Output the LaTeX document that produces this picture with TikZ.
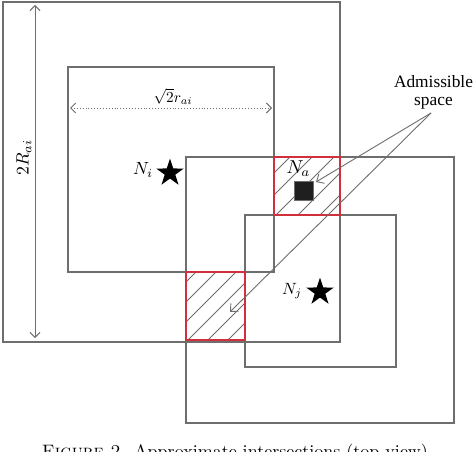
\documentclass[tikz,border=0pt]{standalone}
\usepackage{graphicx}
\usepackage{fontspec}
\newfontfamily\lblfont{Liberation Serif}
\usetikzlibrary{shapes.geometric,arrows.meta}
\definecolor{lg}{HTML}{6E6E6E}
\definecolor{rd}{HTML}{D22F3C}
\begin{document}
\begin{tikzpicture}[x=1pt,y=-1pt,
  box/.style={draw=lg, line width=1.1pt},
  redbox/.style={draw=rd, line width=1.2pt},
  hatch/.style={draw=lg, line width=0.8pt},
  starmark/.style={star, star points=5, star point ratio=2.6, fill=black, minimum size=29pt, inner sep=0pt},
  lbl/.style={inner sep=0pt},
  dimline/.style={draw=lg, line width=0.9pt, {Straight Barb[length=5pt,width=10pt]}-{Straight Barb[length=5pt,width=10pt]}},
  pointer/.style={draw=lg, line width=0.9pt, -{Straight Barb[length=6pt,width=11pt]}}
]
\useasboundingbox (0,0) rectangle (474,452);
\fill[white] (0,0) rectangle (474,452);
% squares
\draw[box, line width=1.4pt] (3,2) rectangle (340,342);
\draw[box] (68,67) rectangle (274,272);
\draw[box] (186,157) rectangle (454,423);
\draw[box] (245,215) rectangle (396,367);
% hatching
\begin{scope}
\clip (274,157) rectangle (340,215);
\foreach \c in {403,425,...,579} \draw[hatch] (\c-300,300) -- (\c-100,100);
\end{scope}
\begin{scope}
\clip (186,272) rectangle (245,340);
\foreach \c in {448,468,...,628} \draw[hatch] (\c-400,400) -- (\c-100,100);
\end{scope}
\draw[redbox] (274,157) rectangle (340,215);
\draw[redbox] (186,272) rectangle (245,340);
% Na
\node[draw=lg, fill=black!88, minimum size=19pt, inner sep=0pt, line width=0.8pt] (na) at (304,191) {};
\node[lbl] (nal) at (298.5,169) {\resizebox{24pt}{!}{$N_a$}};
% stars
\node[starmark] (si) at (170,173) {};
\node[lbl] (nil) at (143,170) {\resizebox{20pt}{!}{$N_i$}};
\node[starmark] (sj) at (320,292) {};
\node[lbl] (njl) at (292,291) {\resizebox{20pt}{!}{$N_j$}};
% dimension arrows
\coordinate (rb) at (35,338);
\coordinate (rt) at (35,5);
\draw[dimline] (rb) -- (rt);
\node[lbl, rotate=90] (rl) at (24,157.5) {\resizebox{36pt}{!}{$2R_{ai}$}};
\coordinate (dl) at (70,108);
\coordinate (dr) at (272,108);
\draw[dimline, dotted] (dl) -- (dr);
\node[lbl] (sl) at (173,96.5) {\resizebox{39pt}{!}{$\sqrt{2}r_{ai}$}};
% admissible
\node[lbl] (adm) at (433.5,92) {\resizebox{79pt}{!}{\lblfont\shortstack{Admissible\\[2.5pt]space}}};
\coordinate (src) at (431,113);
\coordinate (t1) at (316,182);
\coordinate (t2) at (230,312);
\draw[pointer] (src) -- (t1);
\draw[pointer] (src) -- (t2);
% caption (cut off as in the reference)
\node[anchor=north, inner sep=0pt] (cap) at (235,444) {\resizebox{386pt}{!}{{\scshape Figure 2.} Approximate intersections (top view)}};
\end{tikzpicture}
\end{document}
